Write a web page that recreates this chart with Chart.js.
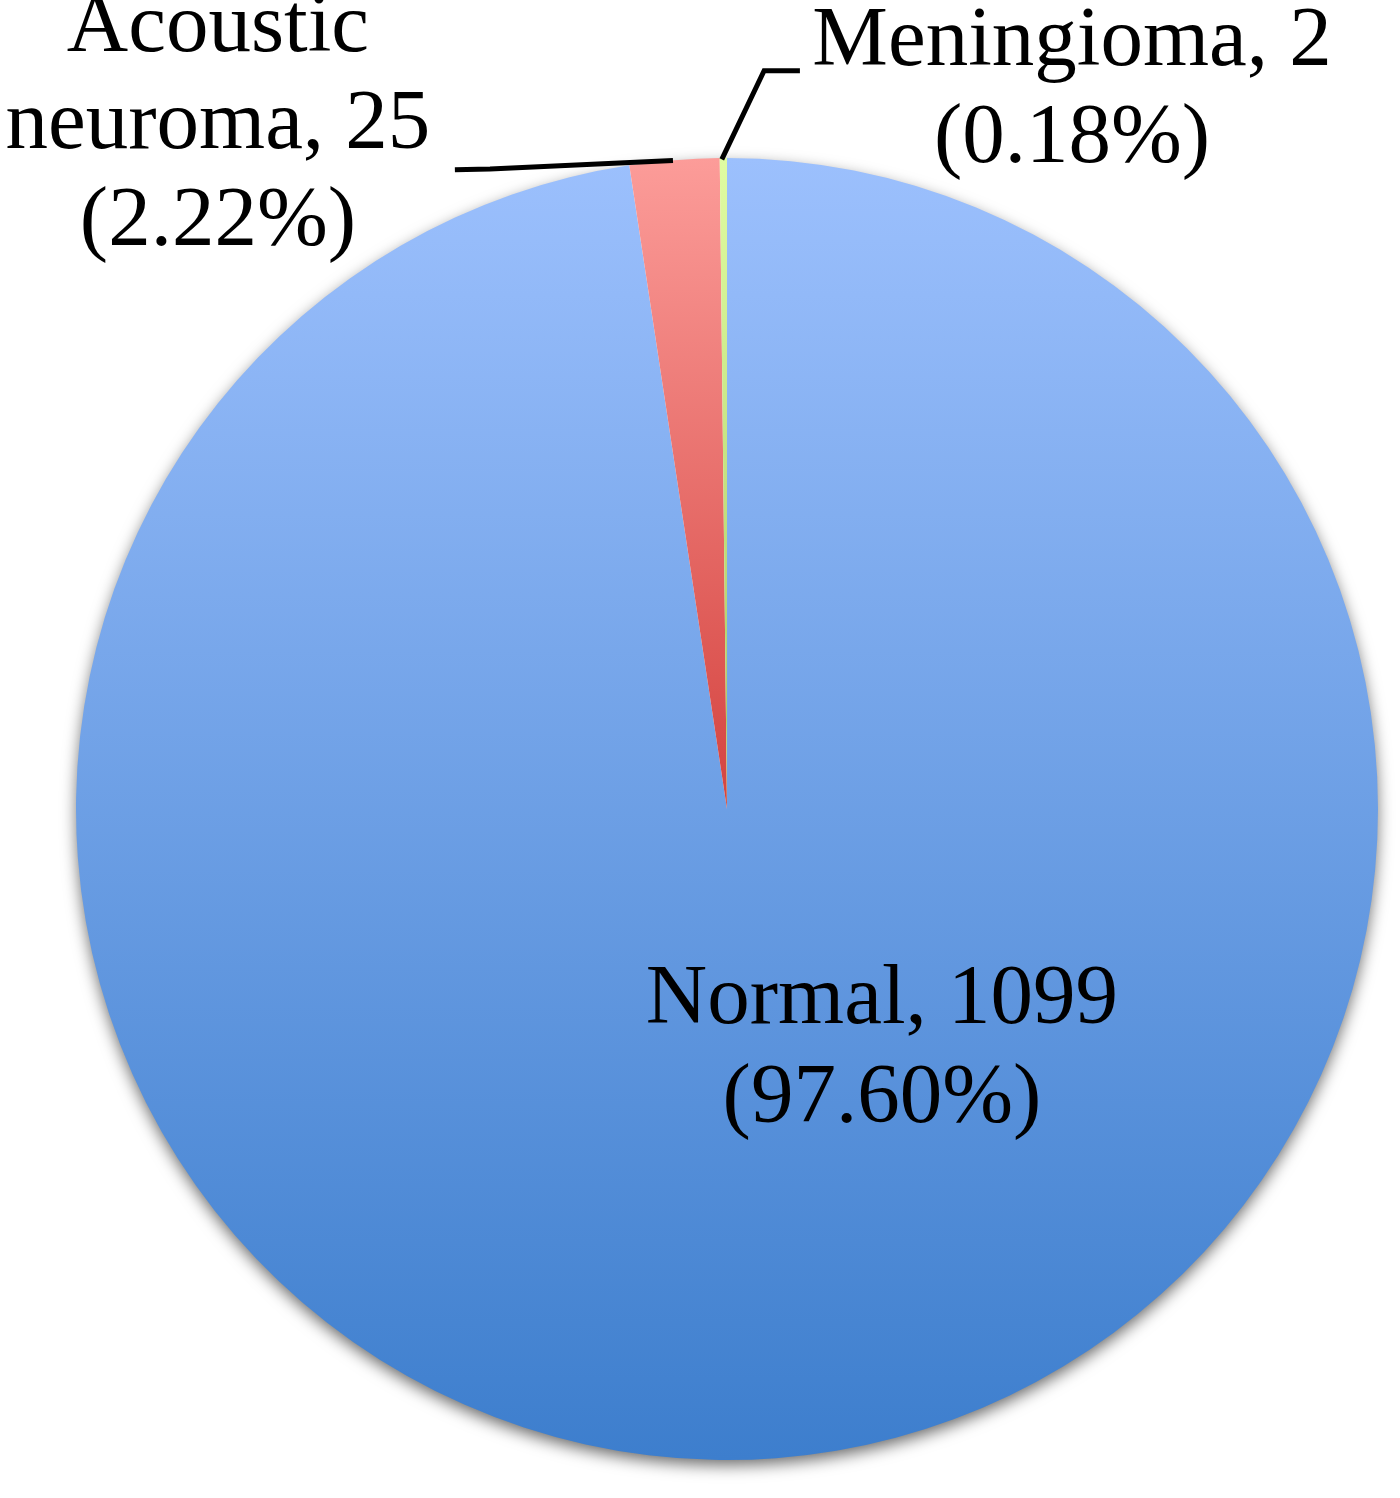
<!DOCTYPE html>
<html>
<head>
<meta charset="utf-8">
<script src="https://cdn.jsdelivr.net/npm/chart.js@4.4.1/dist/chart.umd.min.js"></script>
<style>
html,body{margin:0;padding:0;background:#fff;}
#wrap{width:1400px;height:1498px;position:relative;}
</style>
</head>
<body>
<div id="wrap"><canvas id="c" width="1400" height="1498"></canvas></div>
<script>
const categories = ["Normal", "Acoustic neuroma", "Meningioma"];
const counts = [1099, 25, 2];
const percentLabels = ["97.60%", "2.22%", "0.18%"];
const labelLines = [
  ["Normal, 1099", "(97.60%)"],
  ["Acoustic", "neuroma, 25", "(2.22%)"],
  ["Meningioma, 2", "(0.18%)"]
];

// gradient stops per slice [top, bottom]
const sliceColors = [
  ["#9cc0fd", "#3d7ecd"],
  ["#fc9c99", "#d4433f"],
  ["#e0fca2", "#a8c860"]
];

// label layout relative to pie centre, in units of radius
const labelAnchors = [
  {dx: 0.238, baselines: [0.329, 0.481]},
  {dx: -0.782, baselines: [-1.164, -1.015, -0.866]},
  {dx: 0.530, baselines: [-1.143, -0.994]}
];
const leaders = [
  null,
  [[-0.418, -0.982], [-0.364, -0.983], [-0.083, -0.996]],
  [[-0.008, -0.998], [0.057, -1.134], [0.112, -1.134]]
];

function sliceGradient(context) {
  const chart = context.chart;
  const area = chart.chartArea;
  if (!area) return sliceColors[context.dataIndex][0];
  const i = context.dataIndex;
  const cx = (area.left + area.right) / 2;
  const cy = (area.top + area.bottom) / 2;
  const r = Math.min(area.right - area.left, area.bottom - area.top) / 2;
  const top = cy - r;
  const bottom = i === 0 ? cy + r : cy;
  const g = chart.ctx.createLinearGradient(0, top, 0, bottom);
  g.addColorStop(0, sliceColors[i][0]);
  g.addColorStop(1, sliceColors[i][1]);
  return g;
}

const shadowPlugin = {
  id: 'pieShadow',
  beforeDatasetsDraw(chart) {
    const arc = chart.getDatasetMeta(0).data[0];
    if (!arc) return;
    const ctx = chart.ctx;
    ctx.save();
    ctx.shadowColor = 'rgba(0,0,0,0.6)';
    ctx.shadowBlur = 16;
    ctx.shadowOffsetX = 0;
    ctx.shadowOffsetY = 6;
    ctx.fillStyle = '#ffffff';
    ctx.beginPath();
    ctx.arc(arc.x, arc.y, arc.outerRadius - 1, 0, Math.PI * 2);
    ctx.fill();
    ctx.restore();
  }
};

const labelPlugin = {
  id: 'pieLabels',
  afterDatasetsDraw(chart) {
    const arc = chart.getDatasetMeta(0).data[0];
    if (!arc) return;
    const ctx = chart.ctx;
    const cx = arc.x, cy = arc.y, r = arc.outerRadius;
    ctx.save();
    ctx.strokeStyle = '#000';
    ctx.lineWidth = 5;
    ctx.lineJoin = 'miter';
    leaders.forEach(pts => {
      if (!pts) return;
      ctx.beginPath();
      pts.forEach((p, k) => {
        const x = cx + p[0] * r, y = cy + p[1] * r;
        if (k === 0) ctx.moveTo(x, y); else ctx.lineTo(x, y);
      });
      ctx.stroke();
    });
    ctx.fillStyle = '#000';
    ctx.font = '85px "Liberation Serif", serif';
    ctx.textAlign = 'center';
    ctx.textBaseline = 'alphabetic';
    labelLines.forEach((lines, i) => {
      const a = labelAnchors[i];
      lines.forEach((t, k) => {
        ctx.fillText(t, cx + a.dx * r, cy + a.baselines[k] * r);
      });
    });
    ctx.restore();
  }
};

new Chart(document.getElementById('c'), {
  type: 'pie',
  data: {
    labels: categories,
    datasets: [{
      data: counts,
      backgroundColor: sliceGradient,
      borderWidth: 0
    }]
  },
  options: {
    responsive: false,
    animation: false,
    layout: {padding: {left: 76, right: 22, top: 158, bottom: 38}},
    plugins: {
      legend: {display: false},
      tooltip: {enabled: false}
    }
  },
  plugins: [shadowPlugin, labelPlugin]
});
</script>
</body>
</html>
